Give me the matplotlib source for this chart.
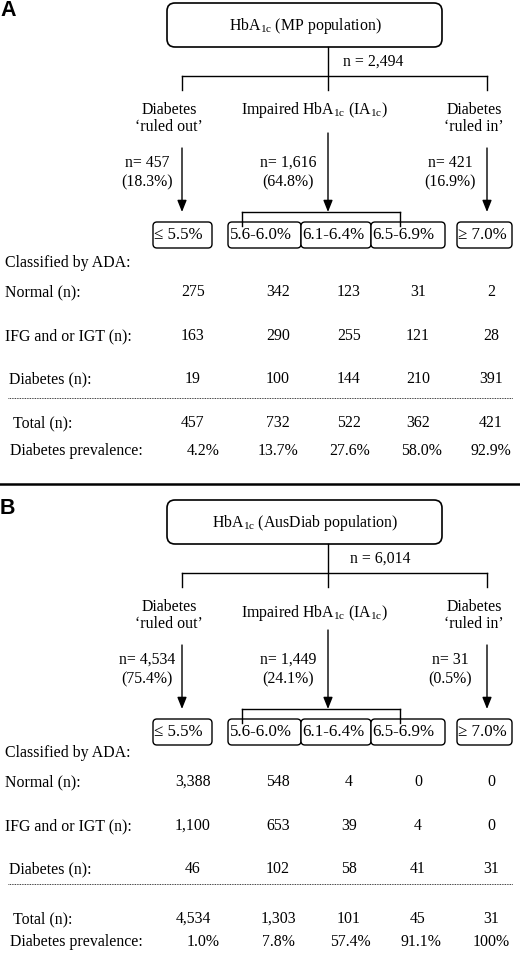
import numpy as np
import matplotlib.pyplot as plt
from matplotlib.patches import FancyBboxPatch

plt.rcParams['font.family'] = ['Liberation Serif', 'DejaVu Serif']
plt.rcParams['mathtext.fontset'] = 'custom'
plt.rcParams['mathtext.rm'] = 'Liberation Serif'

# HbA1c categories (boxes under the tree)
categories = ['≤ 5.5%', '5.6-6.0%', '6.1-6.4%', '6.5-6.9%', '≥ 7.0%']
row_labels = ['Normal (n):', 'IFG and or IGT (n):', ' Diabetes (n):']

# Panel A: MP population
mp_total_n = 2494
mp_branch_n = [457, 1616, 421]
mp_branch_pct = [18.3, 64.8, 16.9]
mp_normal = [275, 342, 123, 31, 2]
mp_ifg_igt = [163, 290, 255, 121, 28]
mp_diabetes = [19, 100, 144, 210, 391]
mp_total = [457, 732, 522, 362, 421]
mp_prevalence = [4.2, 13.7, 27.6, 58.0, 92.9]

# Panel B: AusDiab population
aus_total_n = 6014
aus_branch_n = [4534, 1449, 31]
aus_branch_pct = [75.4, 24.1, 0.5]
aus_normal = [3388, 548, 4, 0, 0]
aus_ifg_igt = [1100, 653, 39, 4, 0]
aus_diabetes = [46, 102, 58, 41, 31]
aus_total = [4534, 1303, 101, 45, 31]
aus_prevalence = [1.0, 7.8, 57.4, 91.1, 100]

FS = 11.4
LW = 1.0


def fmt_pct(v):
    return '100%' if v == 100 else f'{v:.1f}%'


def caja(ax, x0, y0, w, h, r=6, lw=1.2):
    ax.add_patch(FancyBboxPatch((x0, y0), w, h,
                                boxstyle=f'round,pad=0,rounding_size={r}',
                                fc='white', ec='black', lw=lw, zorder=2))


def flecha(ax, x, y_ini, y_fin):
    ax.annotate('', xy=(x, y_fin), xytext=(x, y_ini),
                arrowprops=dict(arrowstyle='-|>,head_length=0.7,head_width=0.28',
                                color='black', lw=LW, shrinkA=0, shrinkB=0))


def draw_panel(ax, dy, letter, population, total_n, n_x, imp_y,
               branch_n, branch_pct, rows, totals, prevalence, row_y):
    ax.text(0, 11 + dy, letter, family='Liberation Sans', weight='bold',
            fontsize=15.5, va='center', ha='left')

    # top box
    caja(ax, 167, 3 + dy, 275, 44, r=8)
    ax.text(305, 26 + dy, r'HbA$_{\rm 1c}$ (' + population + ')',
            fontsize=FS, ha='center', va='center', zorder=3)

    # tree
    ax.plot([328, 328], [47 + dy, 90 + dy], color='black', lw=LW)
    ax.plot([182, 487], [76 + dy, 76 + dy], color='black', lw=LW)
    for x in (182, 487):
        ax.plot([x, x], [76 + dy, 90 + dy], color='black', lw=LW)
    ax.text(n_x, 62 + dy, f'n = {total_n:,}', fontsize=FS, ha='left', va='center')

    ax.text(169, 110 + dy, 'Diabetes', fontsize=FS, ha='center', va='center')
    ax.text(169, 127 + dy, '‘ruled out’', fontsize=FS, ha='center', va='center')
    ax.text(314, imp_y + dy, r'Impaired HbA$_{\rm 1c}$ (IA$_{\rm 1c}$)',
            fontsize=FS, ha='center', va='center')
    ax.text(474, 110 + dy, 'Diabetes', fontsize=FS, ha='center', va='center')
    ax.text(474, 127 + dy, '‘ruled in’', fontsize=FS, ha='center', va='center')

    # arrows and branch counts
    flecha(ax, 182, 148 + dy, 212 + dy)
    flecha(ax, 328, 133 + dy, 212 + dy)
    flecha(ax, 487, 148 + dy, 212 + dy)
    for xc, n, p in zip([147, 288, 450], branch_n, branch_pct):
        ax.text(xc, 163 + dy, f'n= {n:,}', fontsize=FS, ha='center', va='center')
        ax.text(xc, 182 + dy, f'({p}%)', fontsize=FS, ha='center', va='center')

    # bracket over the IA1c boxes
    ax.plot([242, 400], [212 + dy, 212 + dy], color='black', lw=LW)
    for x in (242, 400):
        ax.plot([x, x], [212 + dy, 226 + dy], color='black', lw=LW, zorder=4)

    # category boxes
    lims = [(153, 212), (228, 301), (301, 371), (371, 445), (457, 512)]
    for (x0, x1), cat in zip(lims, categories):
        caja(ax, x0, 222 + dy, x1 - x0, 26, r=4, lw=1.0)
        ax.text(x0 + 1.5, 235 + dy, cat, fontsize=FS + 0.8, ha='left',
                va='center', zorder=3)

    # table
    cols = [193, 278, 349, 418, 491]
    ax.text(5, row_y[0], 'Classified by ADA:', fontsize=FS, va='center')
    for lab, vals, y in zip(row_labels, rows, row_y[1:4]):
        ax.text(5, y, lab, fontsize=FS, va='center')
        for xc, v in zip(cols, vals):
            ax.text(xc, y, f'{v:,}', fontsize=FS, ha='center', va='center')
    ax.plot([8, 513], [row_y[4], row_y[4]], color='black', lw=0.6,
            linestyle=(0, (1, 1)))
    ax.text(13, row_y[5], 'Total (n):', fontsize=FS, va='center')
    for xc, v in zip(cols, totals):
        ax.text(xc, row_y[5], f'{v:,}', fontsize=FS, ha='center', va='center')
    ax.text(10, row_y[6], 'Diabetes prevalence:', fontsize=FS, va='center')
    for xc, v in zip([203, 278, 350, 421, 491], prevalence):
        ax.text(xc, row_y[6], fmt_pct(v), fontsize=FS, ha='center', va='center')


def main():
    fig = plt.figure(figsize=(5.2, 9.59), dpi=100)
    ax = fig.add_axes([0, 0, 1, 1])
    ax.set_xlim(0, 520)
    ax.set_ylim(959, 0)
    ax.axis('off')

    draw_panel(ax, 0, 'A', 'MP population', mp_total_n, 343, 110,
               mp_branch_n, mp_branch_pct,
               [mp_normal, mp_ifg_igt, mp_diabetes], mp_total, mp_prevalence,
               [263, 292, 336, 379, 398, 423, 451])

    ax.plot([0, 520], [484, 484], color='black', lw=1.8)

    draw_panel(ax, 497, 'B', 'AusDiab population', aus_total_n, 350, 116,
               aus_branch_n, aus_branch_pct,
               [aus_normal, aus_ifg_igt, aus_diabetes], aus_total, aus_prevalence,
               [753, 782, 826, 869, 884, 919, 942])

    fig.savefig('out.png', dpi=100, facecolor='white')


if __name__ == "__main__":
    main()
